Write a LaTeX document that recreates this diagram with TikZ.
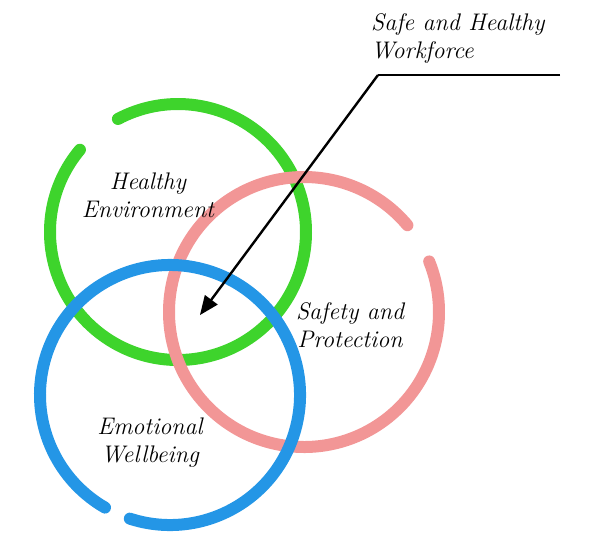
\documentclass[tikz,border=0pt]{standalone}
\usepackage{tikz}
\usetikzlibrary{arrows}
\definecolor{ringgreen}{RGB}{62,212,44}
\definecolor{ringpink}{RGB}{242,150,150}
\definecolor{ringblue}{RGB}{36,150,230}
\tikzstyle{ring} = [line width=6pt, line cap=round]
\tikzstyle{caption} = [font=\fontsize{12}{14}\selectfont\itshape, align=center]

\begin{document}
\begin{tikzpicture}[x=0.5pt,y=-0.5pt]
	\useasboundingbox (0,0) rectangle (600,558);

	% rings
	\draw[ring, ringgreen] (178,232) ++(-140:128) arc (-140:-478:128);
	\draw[ring, ringpink] (304,312) ++(-40:135) arc (-40:-382:135);
	\draw[ring, ringblue] (170,395) ++(-252:130) arc (-252:-600:130);

	% labels
	\node[caption] (env)     at (148,195) {Healthy\\Environment};
	\node[caption] (safety)  at (350,325) {Safety and\\Protection};
	\node[caption] (emotion) at (150,443) {Emotional\\Wellbeing};
	\node[caption, align=left, anchor=south west] (workforce) at (364,70)
	  {Safe and Healthy\\Workforce};

	% pointer
	\coordinate (corner) at (378,75);
	\coordinate (lineend) at (560,75);
	\coordinate (tip) at (200,315);
	\draw[line width=1.2pt] (lineend) -- (corner);
	\draw[line width=1.2pt, ->, >={triangle 45}] (corner) -- (tip);
\end{tikzpicture}
\end{document}
